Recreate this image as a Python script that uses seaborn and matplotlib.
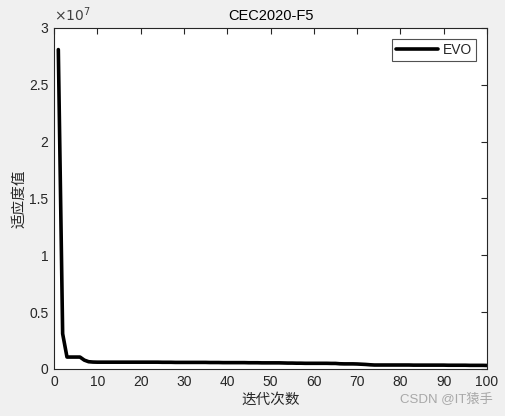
import numpy as np
import pandas as pd
import seaborn as sns
import matplotlib.pyplot as plt
from matplotlib.ticker import FuncFormatter, MultipleLocator

# convergence curve values
iterations = list(range(1, 101))
fitness = [
    2.81e7, 3.10e6, 1.05e6, 1.05e6, 1.05e6, 1.05e6, 0.78e6, 0.64e6, 0.61e6, 0.60e6,
    0.60e6, 0.60e6, 0.60e6, 0.60e6, 0.60e6, 0.60e6, 0.60e6, 0.60e6, 0.60e6, 0.60e6,
    0.60e6, 0.60e6, 0.60e6, 0.60e6, 0.59e6, 0.59e6, 0.59e6, 0.58e6, 0.58e6, 0.58e6,
    0.58e6, 0.58e6, 0.58e6, 0.58e6, 0.58e6, 0.57e6, 0.57e6, 0.57e6, 0.56e6, 0.56e6,
    0.56e6, 0.56e6, 0.56e6, 0.56e6, 0.55e6, 0.55e6, 0.55e6, 0.54e6, 0.54e6, 0.54e6,
    0.54e6, 0.54e6, 0.53e6, 0.52e6, 0.52e6, 0.51e6, 0.51e6, 0.50e6, 0.50e6, 0.50e6,
    0.50e6, 0.50e6, 0.50e6, 0.49e6, 0.49e6, 0.46e6, 0.45e6, 0.45e6, 0.45e6, 0.44e6,
    0.42e6, 0.40e6, 0.37e6, 0.35e6, 0.35e6, 0.35e6, 0.35e6, 0.35e6, 0.35e6, 0.35e6,
    0.35e6, 0.35e6, 0.34e6, 0.34e6, 0.34e6, 0.34e6, 0.34e6, 0.34e6, 0.34e6, 0.34e6,
    0.33e6, 0.33e6, 0.33e6, 0.33e6, 0.33e6, 0.32e6, 0.32e6, 0.32e6, 0.32e6, 0.31e6,
]
series_name = 'EVO'
title = 'CEC2020-F5'
x_label = '迭代次数'
y_label = '适应度值'
watermark = 'CSDN @IT猿手'

df = pd.DataFrame({'iter': iterations, 'fit': fitness, 'algo': series_name})

sns.set_style('white')
plt.rcParams['font.family'] = ['Liberation Sans', 'Noto Sans CJK SC', 'DejaVu Sans']
plt.rcParams['axes.edgecolor'] = '#262626'
plt.rcParams['xtick.color'] = '#262626'
plt.rcParams['ytick.color'] = '#262626'

fig = plt.figure(figsize=(5.06, 4.16), dpi=100, facecolor='#f0f0f0')
ax = fig.add_axes([0.1067, 0.113, 0.8558, 0.8197])
ax.set_facecolor('white')

sns.lineplot(data=df, x='iter', y='fit', hue='algo', palette=['black'],
             linewidth=2.6, ax=ax)

ax.set_xlim(0, 100)
ax.set_ylim(0, 3e7)
ax.xaxis.set_major_locator(MultipleLocator(10))
ax.yaxis.set_major_locator(MultipleLocator(0.5e7))
ax.yaxis.set_major_formatter(FuncFormatter(lambda v, p: '%g' % (v / 1e7)))
ax.tick_params(direction='in', top=True, right=True, length=4, width=0.8,
               labelsize=10, pad=4)
for s in ax.spines.values():
    s.set_linewidth(0.8)
    s.set_visible(True)

ax.text(0.0, 1.012, r'$\times 10^{7}$', transform=ax.transAxes,
        fontsize=10, color='#404040', ha='left', va='bottom')

ax.set_title(title, fontsize=10.5, color='black', pad=6)
ax.set_xlabel(x_label, fontsize=10.5, color='#262626', labelpad=3)
ax.set_ylabel(y_label, fontsize=10.5, color='#262626', labelpad=2)

leg = ax.legend(loc='upper right', fontsize=10, frameon=True, fancybox=False,
                handlelength=3.0, borderpad=0.3, handletextpad=0.35,
                borderaxespad=0.8)
leg.get_frame().set_edgecolor('#262626')
leg.get_frame().set_linewidth(0.8)
leg.set_title(None)

fig.text(0.79, 0.043, watermark, fontsize=9.5, color='#a8a8a8',
         ha='left', va='center')

fig.savefig('out.png', dpi=100, facecolor=fig.get_facecolor())
